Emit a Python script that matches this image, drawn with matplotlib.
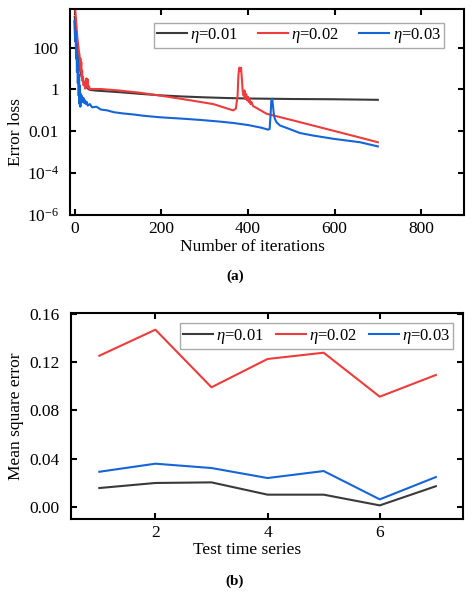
import numpy as np
import matplotlib
matplotlib.use("Agg")
import matplotlib.pyplot as plt
from matplotlib.ticker import FixedLocator, FuncFormatter, NullLocator

# fonts: Times-like serif, italic eta in the legend
plt.rcParams['font.family'] = ['Liberation Serif', 'DejaVu Serif']
plt.rcParams['mathtext.fontset'] = 'custom'
plt.rcParams['mathtext.rm'] = 'Liberation Serif'
plt.rcParams['mathtext.it'] = 'Liberation Serif:italic'
plt.rcParams['font.size'] = 12.5

labels = [r'$\eta$=0.01', r'$\eta$=0.02', r'$\eta$=0.03']
colors = ['#3a3a3a', '#ee3b3b', '#1565d8']

# (a) training loss
black_it = [0, 3, 6, 10, 15, 20, 25, 30, 35, 50, 100, 150, 200, 250, 300,
            350, 400, 450, 500, 600, 700]
black_val = [3000, 300, 60, 15, 5, 2.5, 1.5, 1.1, 0.95, 0.88, 0.75, 0.62,
             0.52, 0.46, 0.42, 0.39, 0.37, 0.36, 0.35, 0.34, 0.32]

red_it = [-1, 3, 6, 9, 11, 12, 13, 14, 15, 16, 17, 18, 19, 20, 22, 24, 26, 27,
          28, 30, 31, 33, 35, 38, 45, 60, 100, 150, 200, 260, 320, 366, 372,
          376, 378, 380, 382, 384, 386, 388, 390, 392, 394, 396, 398, 400, 402,
          404, 406, 408, 412, 420, 443, 500, 600, 650, 700]
red_val = [2e4, 2000, 300, 80, 44, 10, 30, 8, 20, 4, 8, 2.5, 4, 1.6, 2.0, 1.1,
           1.4, 3.4, 1.5, 3.0, 1.2, 1.4, 1.0, 1.05, 1.05, 1.05, 0.9, 0.7, 0.5,
           0.32, 0.2, 0.1, 0.12, 0.5, 5, 11, 8, 11, 3, 0.8, 0.5, 0.9, 0.35,
           0.6, 0.3, 0.45, 0.25, 0.35, 0.2, 0.25, 0.16, 0.13, 0.069, 0.035,
           0.0103, 0.0056, 0.003]

blue_it = [-1, 1, 2, 3, 4, 5, 6, 7, 8, 9, 10, 11, 12, 13, 14, 15, 16, 18, 20,
           22, 24, 26, 28, 30, 35, 40, 50, 60, 75, 90, 110, 135, 160, 196, 250,
           290, 336, 366, 400, 430, 447, 450, 452, 454, 456, 458, 460, 462, 466,
           474, 500, 520, 550, 597, 659, 700]
blue_val = [1800, 200, 600, 30, 150, 7, 40, 2, 15, 0.5, 5, 0.2, 1.5, 0.15, 0.6,
            0.3, 0.5, 0.25, 0.4, 0.22, 0.3, 0.2, 0.25, 0.17, 0.2, 0.14, 0.15,
            0.11, 0.1, 0.082, 0.072, 0.064, 0.055, 0.047, 0.04, 0.035, 0.029,
            0.025, 0.02, 0.015, 0.012, 0.013, 0.05, 0.3, 0.36, 0.15, 0.06, 0.04,
            0.027, 0.019, 0.012, 0.0083, 0.0063, 0.0044, 0.003, 0.0019]

# (b) mean square error on the test series
series = [1, 2, 3, 4, 5, 6, 7]
mse_001 = [0.0155, 0.0197, 0.0202, 0.0100, 0.0100, 0.0011, 0.0170]
mse_002 = [0.1253, 0.1469, 0.0991, 0.1226, 0.1278, 0.0913, 0.1093]
mse_003 = [0.0290, 0.0357, 0.0321, 0.0238, 0.0296, 0.0061, 0.0246]


def style(ax):
    for s in ax.spines.values():
        s.set_linewidth(1.5)
    ax.tick_params(direction='in', top=True, right=True, width=1.5, length=4,
                   labelsize=12.5)
    ax.tick_params(axis='x', pad=4.5)
    ax.tick_params(axis='y', pad=8)


fig = plt.figure(figsize=(4.74, 5.92), dpi=100)

# ---- panel (a)
ax1 = fig.add_axes([0.1477, 0.6368, 0.8312, 0.348])
ax1.plot(black_it, black_val, color=colors[0], lw=1.5, label=labels[0])
ax1.plot(red_it, red_val, color=colors[1], lw=1.5, label=labels[1])
ax1.plot(blue_it, blue_val, color=colors[2], lw=1.5, label=labels[2])
ax1.set_yscale('log')
ax1.set_ylim(1e-6, 7e3)
ax1.set_xlim(-11, 899)
ax1.set_xticks([0, 200, 400, 600, 800])
ax1.yaxis.set_major_locator(FixedLocator([1e-6, 1e-4, 1e-2, 1, 100]))
ax1.yaxis.set_minor_locator(NullLocator())
ytxt = {100: '100', 1: '1', 0.01: '0.01', 1e-4: r'10$^{\mathregular{-4}}$',
        1e-6: r'10$^{\mathregular{-6}}$'}


def fmt(v, pos):
    for k, t in ytxt.items():
        if abs(np.log10(v) - np.log10(k)) < 1e-6:
            return t
    return ''


ax1.yaxis.set_major_formatter(FuncFormatter(fmt))
style(ax1)
ax1.set_xlabel('Number of iterations', fontsize=12.5)
ax1.xaxis.set_label_coords(0.463, -0.118)
ax1.set_ylabel('Error loss', fontsize=12.5)
ax1.yaxis.set_label_coords(-0.118, 0.404)
leg1 = ax1.legend(loc='upper right', bbox_to_anchor=(0.949, 0.933), ncol=3,
                  frameon=True, fancybox=False, edgecolor='#aaaaaa',
                  framealpha=1, borderaxespad=0, borderpad=0.2,
                  handlelength=1.8, handletextpad=0.2, columnspacing=1.2,
                  fontsize=12)
leg1.get_frame().set_linewidth(1.0)
fig.text(235 / 474, 1 - 276.7 / 592, '(a)', ha='center', va='center',
         fontsize=11, fontweight='bold')

# ---- panel (b)
ax2 = fig.add_axes([0.1492, 0.1233, 0.8283, 0.3485])
ax2.plot(series, mse_001, color=colors[0], lw=1.5, label=labels[0])
ax2.plot(series, mse_002, color=colors[1], lw=1.5, label=labels[1])
ax2.plot(series, mse_003, color=colors[2], lw=1.5, label=labels[2])
ax2.set_xlim(0.49, 7.49)
ax2.set_ylim(-0.0102, 0.161)
ax2.set_xticks([2, 4, 6])
ax2.set_yticks([0.00, 0.04, 0.08, 0.12, 0.16])
ax2.yaxis.set_major_formatter(FuncFormatter(lambda v, p: '%.2f' % v))
style(ax2)
ax2.set_xlabel('Test time series', fontsize=12.5)
ax2.xaxis.set_label_coords(0.45, -0.113)
ax2.set_ylabel('Mean square error', fontsize=12.5)
ax2.yaxis.set_label_coords(-0.12, 0.5)
leg2 = ax2.legend(loc='upper right', bbox_to_anchor=(0.9746, 0.9486), ncol=3,
                  frameon=True, fancybox=False, edgecolor='#aaaaaa',
                  framealpha=1, borderaxespad=0, borderpad=0.2,
                  handlelength=1.8, handletextpad=0.2, columnspacing=0.7,
                  fontsize=12)
leg2.get_frame().set_linewidth(1.0)
fig.text(235 / 474, 1 - 581 / 592, '(b)', ha='center', va='center',
         fontsize=11, fontweight='bold')

fig.savefig('out.png', dpi=100)
